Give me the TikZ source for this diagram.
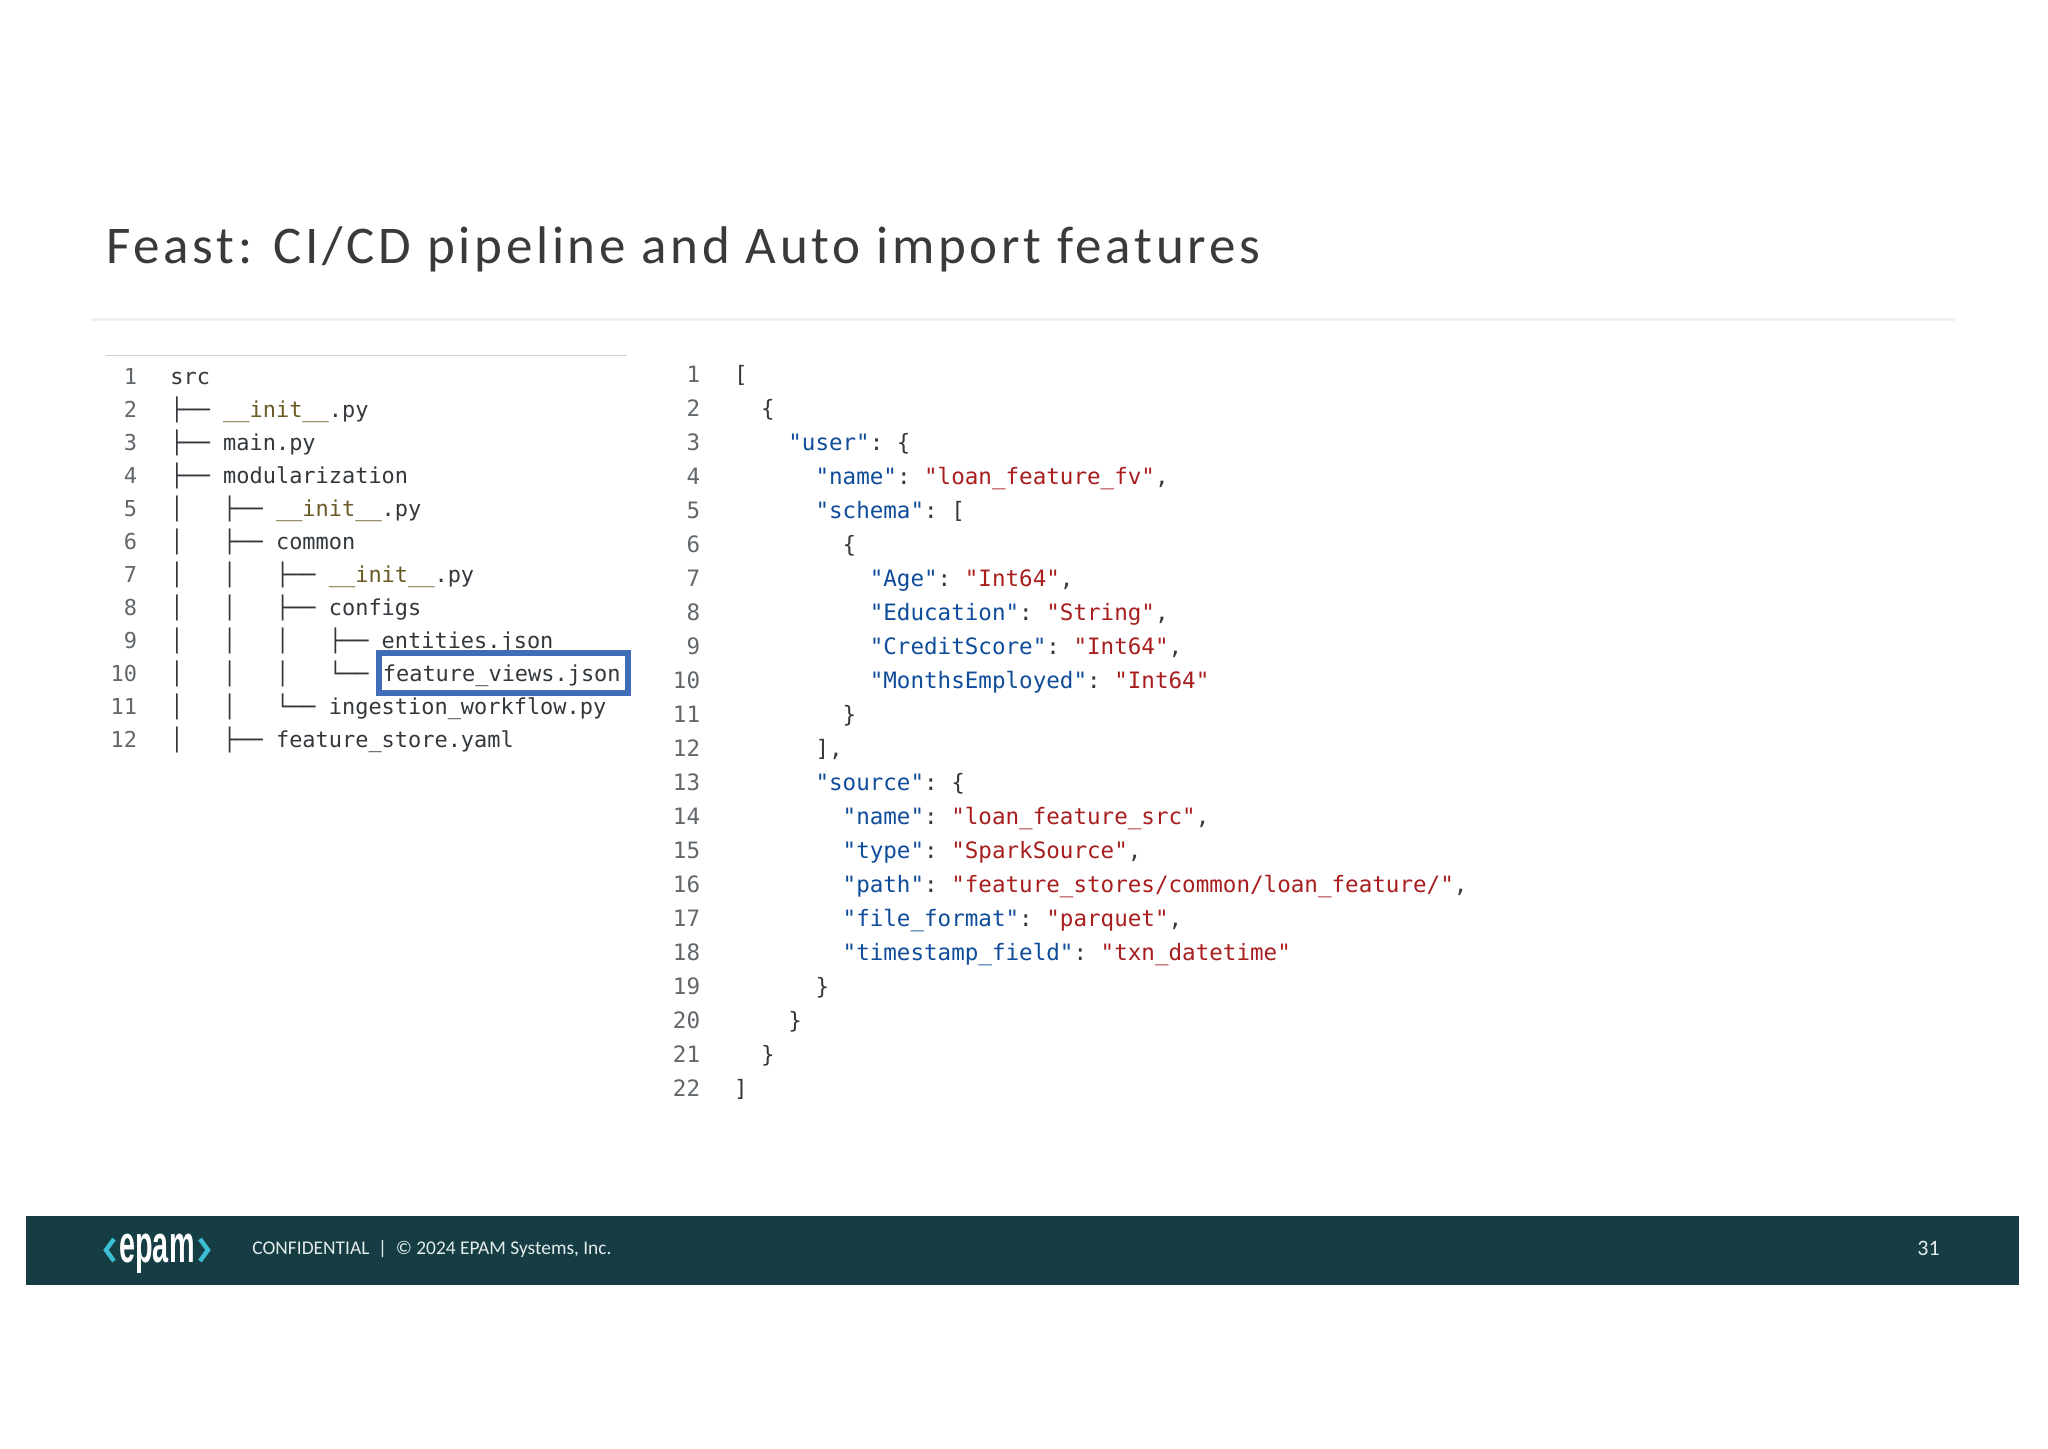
\documentclass[tikz,border=0pt]{standalone}
\usepackage{fontspec}
\setmainfont{Carlito}
\newfontfamily\treefont{DejaVu Sans Mono}[Scale=1]
\newfontfamily\logofont{Liberation Sans}
\definecolor{numgray}{HTML}{62676C}
\definecolor{codetext}{HTML}{33383D}
\definecolor{initcol}{HTML}{6B5A25}
\definecolor{keycol}{HTML}{0F4C9A}
\definecolor{strcol}{HTML}{A81E1E}
\definecolor{boxblue}{HTML}{3F6DB8}
\definecolor{bandcol}{HTML}{153D43}
\definecolor{chevcol}{HTML}{3CBFD4}
\definecolor{titlecol}{HTML}{3A3A3A}
\definecolor{footcol}{HTML}{E4ECEC}
\newcommand{\inic}{\textcolor{initcol}{\_\_init\_\_}}
\newcommand{\keyc}[1]{\textcolor{keycol}{"#1"}}
\newcommand{\strc}[1]{\textcolor{strcol}{"#1"}}
\newcommand{\tl}{~~~}
\tikzset{
  x=0.5pt,y=-0.5pt,
  numlbl/.style={anchor=base east,inner sep=0pt,text=numgray,font=\treefont\fontsize{10.97pt}{12pt}\selectfont},
  treelbl/.style={anchor=base west,inner sep=0pt,text=codetext,font=\treefont\fontsize{10.97pt}{12pt}\selectfont},
  jsonnum/.style={anchor=base east,inner sep=0pt,text=numgray,font=\treefont\fontsize{11.28pt}{12pt}\selectfont},
  jsonlbl/.style={anchor=base west,inner sep=0pt,text=codetext,font=\treefont\fontsize{11.28pt}{12pt}\selectfont},
  footlbl/.style={anchor=base west,inner sep=0pt,text=footcol,font=\fontsize{9.7pt}{11pt}\selectfont},
}
\begin{document}
\begin{tikzpicture}
\useasboundingbox (0,0) rectangle (2048,1448);
\fill[white] (0,0) rectangle (2048,1448);
% title
\node[anchor=base west,inner sep=0pt,text=titlecol,font=\fontsize{26.5pt}{30pt}\selectfont\addfontfeatures{LetterSpace=7.05}] (title) at (106,263) {Feast: CI/CD pipeline and Auto import features};
\fill[black!6] (91,317.5) rectangle (1955,321);
% tree
\draw[black!18,line width=0.4pt] (106,355.5) -- (627,355.5);
\foreach \i in {1,...,12}
  \node[numlbl] (tn\i) at (137.5,{384+33*(\i-1)}) {\i};
\node[treelbl] (t1) at (170,384) {src};
\node[treelbl] (t2) at (170,417) {├──~\inic.py};
\node[treelbl] (t3) at (170,450) {├──~main.py};
\node[treelbl] (t4) at (170,483) {├──~modularization};
\node[treelbl] (t5) at (170,516) {│\tl├──~\inic.py};
\node[treelbl] (t6) at (170,549) {│\tl├──~common};
\node[treelbl] (t7) at (170,582) {│\tl│\tl├──~\inic.py};
\node[treelbl] (t8) at (170,615) {│\tl│\tl├──~configs};
\node[treelbl] (t9) at (170,648) {│\tl│\tl│\tl├──~entities.json};
\node[treelbl] (t10a) at (170,681) {│\tl│\tl│\tl└──};
\node[treelbl] (t11) at (170,714) {│\tl│\tl└──~ingestion\_workflow.py};
\node[treelbl] (t12) at (170,747) {│\tl├──~feature\_store.yaml};
\draw[draw=boxblue,line width=2.6pt,fill=white] (379,653) rectangle (628,693);
\node[treelbl] (t10b) at (382.5,681) {feature\_views.json};
% json
\foreach \i in {1,...,22}
  \node[jsonnum] (jn\i) at (700.5,{382.5+33.98*(\i-1)}) {\i};
\node[jsonlbl] (j1) at (733.6,382) {[};
\node[jsonlbl] (j2) at (733.6,416) {~~\{};
\node[jsonlbl] (j3) at (733.6,450) {~~~~\keyc{user}:~\{};
\node[jsonlbl] (j4) at (733.6,484) {~~~~~~\keyc{name}:~\strc{loan\_feature\_fv},};
\node[jsonlbl] (j5) at (733.6,518) {~~~~~~\keyc{schema}:~[};
\node[jsonlbl] (j6) at (733.6,552) {~~~~~~~~\{};
\node[jsonlbl] (j7) at (733.6,586) {~~~~~~~~~~\keyc{Age}:~\strc{Int64},};
\node[jsonlbl] (j8) at (733.6,620) {~~~~~~~~~~\keyc{Education}:~\strc{String},};
\node[jsonlbl] (j9) at (733.6,654) {~~~~~~~~~~\keyc{CreditScore}:~\strc{Int64},};
\node[jsonlbl] (j10) at (733.6,688) {~~~~~~~~~~\keyc{MonthsEmployed}:~\strc{Int64}};
\node[jsonlbl] (j11) at (733.6,722) {~~~~~~~~\}};
\node[jsonlbl] (j12) at (733.6,756) {~~~~~~],};
\node[jsonlbl] (j13) at (733.6,790) {~~~~~~\keyc{source}:~\{};
\node[jsonlbl] (j14) at (733.6,824) {~~~~~~~~\keyc{name}:~\strc{loan\_feature\_src},};
\node[jsonlbl] (j15) at (733.6,858) {~~~~~~~~\keyc{type}:~\strc{SparkSource},};
\node[jsonlbl] (j16) at (733.6,892) {~~~~~~~~\keyc{path}:~\strc{feature\_stores/common/loan\_feature/},};
\node[jsonlbl] (j17) at (733.6,926) {~~~~~~~~\keyc{file\_format}:~\strc{parquet},};
\node[jsonlbl] (j18) at (733.6,960) {~~~~~~~~\keyc{timestamp\_field}:~\strc{txn\_datetime}};
\node[jsonlbl] (j19) at (733.6,994) {~~~~~~\}};
\node[jsonlbl] (j20) at (733.6,1028) {~~~~\}};
\node[jsonlbl] (j21) at (733.6,1062) {~~\}};
\node[jsonlbl] (j22) at (733.6,1096) {]};
% footer
\fill[bandcol] (26,1216) rectangle (2019,1285);
\node[anchor=base,inner sep=0pt,text=white,font=\logofont\bfseries\fontsize{24pt}{28pt}\selectfont,xscale=.6,yscale=1.1,transform shape] (logo) at (157,1262) {epam};
\draw[chevcol,line width=2.2pt,line join=miter] (114,1239) -- (106,1250) -- (114,1261);
\draw[chevcol,line width=2.2pt,line join=miter] (200,1239) -- (208,1250) -- (200,1261);
\node[footlbl] (conf) at (252,1254) {CONFIDENTIAL~~|~~© 2024 EPAM Systems, Inc.};
\node[footlbl,font=\fontsize{11pt}{12pt}\selectfont] (page) at (1917,1255.5) {31};
\end{tikzpicture}
\end{document}
